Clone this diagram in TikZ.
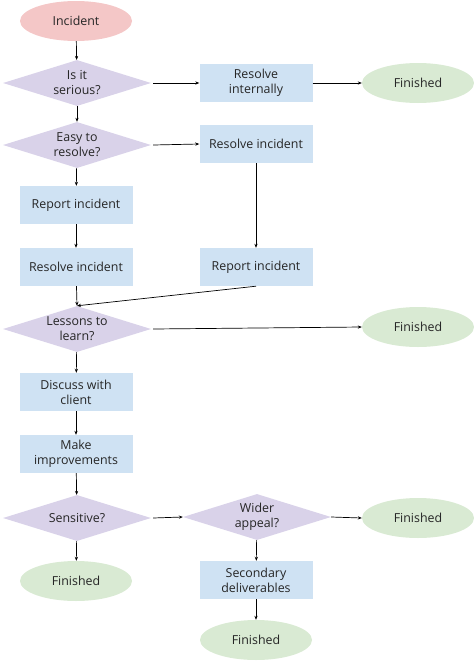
\documentclass[tikz,border=0pt]{standalone}
\usepackage{fontspec}
\setmainfont{Open Sans}
\usetikzlibrary{shapes.geometric,arrows.meta}
\definecolor{startc}{HTML}{F4C7C7}
\definecolor{decc}{HTML}{D9D2E9}
\definecolor{procc}{HTML}{CFE2F3}
\definecolor{endc}{HTML}{D9EAD3}
\definecolor{txt}{HTML}{262626}
\tikzset{
  base/.style={draw=none,text=txt,font=\fontsize{12.4}{15}\selectfont,align=center},
  startnode/.style={base,ellipse,fill=startc,minimum width=112pt,minimum height=40pt,inner sep=0pt},
  endnode/.style={base,ellipse,fill=endc,minimum width=112pt,minimum height=40pt,inner sep=0pt},
  procnode/.style={base,rectangle,fill=procc,minimum width=113pt,minimum height=38pt,inner sep=0pt},
  decnode/.style={base,diamond,fill=decc,minimum width=148pt,minimum height=46pt,inner sep=-3pt,aspect=3.2},
  arr/.style={-{Stealth[length=4pt,width=3.2pt]},line width=0.7pt,black}
}
\begin{document}
\begin{tikzpicture}[x=1pt,y=-1pt]
\useasboundingbox (0,0) rectangle (474,662);
\node[startnode] (inc) at (76,21) {Incident};
\node[decnode] (ser) at (77,83) {Is it\\serious?};
\node[procnode] (resint) at (256,83) {Resolve\\internally};
\node[endnode] (fin1) at (418,83) {Finished};
\node[decnode] (easy) at (77,145) {Easy to\\resolve?};
\node[procnode] (resR) at (256,144) {Resolve incident};
\node[procnode] (repL) at (76,205) {Report incident};
\node[procnode] (resL) at (76,267) {Resolve incident};
\node[procnode] (repR) at (256,267) {Report incident};
\node[decnode] (less) at (77,329) {Lessons to\\learn?};
\node[endnode] (fin2) at (418,327) {Finished};
\node[procnode] (disc) at (76,392) {Discuss with\\client};
\node[procnode] (make) at (76,454) {Make\\improvements};
\node[decnode] (sens) at (77,518) {Sensitive?};
\node[decnode] (wide) at (257,517) {Wider\\appeal?};
\node[endnode] (fin3) at (418,518) {Finished};
\node[endnode] (fin4) at (76,581) {Finished};
\node[procnode] (sec) at (256,580) {Secondary\\deliverables};
\node[endnode] (fin5) at (256,640) {Finished};

\draw[arr] (inc) -- (ser);
\draw[arr] ([xshift=2pt]ser.east) -- (resint.west);
\draw[arr] (resint.east) -- (fin1.west);
\draw[arr] (ser) -- (easy);
\draw[arr] ([xshift=2pt]easy.east) -- (resR.west);
\draw[arr] (easy) -- (repL);
\draw[arr] (resR) -- (repR);
\draw[arr] (repL) -- (resL);
\draw[arr] (resL) -- (less.north);
\draw[arr] (repR.south) -- (less.north);
\draw[arr] ([xshift=2pt]less.east) -- (fin2.west);
\draw[arr] (less) -- (disc);
\draw[arr] (disc) -- (make);
\draw[arr] (make) -- (sens);
\draw[arr] ([xshift=2pt]sens.east) -- (wide.west);
\draw[arr] (wide.east) -- (fin3.west);
\draw[arr] (sens) -- (fin4);
\draw[arr] (wide) -- (sec);
\draw[arr] (sec) -- (fin5);
\end{tikzpicture}
\end{document}
